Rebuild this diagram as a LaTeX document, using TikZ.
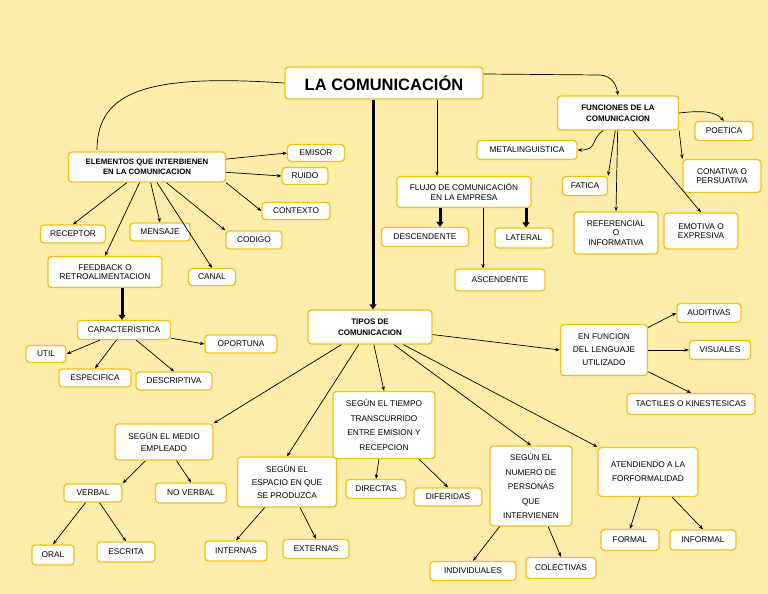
\documentclass[tikz,border=0pt]{standalone}
\usepackage{fontspec}
\setmainfont{Liberation Sans}
\usetikzlibrary{arrows.meta}
\definecolor{bg}{HTML}{FCEEAA}
\definecolor{bd}{HTML}{F2C21A}
\begin{document}
\begin{tikzpicture}[x=1pt,y=-1pt,
 box/.style={draw=bd,line width=1.3pt,fill=white,rounded corners=3.5pt,align=center,font=\fontsize{8.3}{9.5}\selectfont,inner sep=1pt},
 b/.style 2 args={box,minimum width=#1,minimum height=#2},
 a/.style={-{Stealth[length=4.5pt,width=3.5pt]},line width=0.7pt},
 thk/.style={-{Triangle[length=5pt,width=7pt]},line width=3pt}]
\fill[bg] (0,0) rectangle (768,594);
\useasboundingbox (0,0) rectangle (768,594);
\node[b={198pt}{32pt},font=\bfseries\fontsize{16.5}{18}\selectfont] (main) at (384,83) {LA COMUNICACIÓN};
\node[b={157pt}{30pt},font=\bfseries\fontsize{7.8}{9.5}\selectfont] (elem) at (147,167) {ELEMENTOS QUE INTERBIENEN\\EN LA COMUNICACION};
\node[b={57pt}{17pt}] (emisor) at (316,153) {EMISOR};
\node[b={46pt}{17pt}] (ruido) at (305,176) {RUIDO};
\node[b={68pt}{17pt}] (contexto) at (296,211) {CONTEXTO};
\node[b={56pt}{18pt}] (codigo) at (254,240) {CODIGO};
\node[b={47pt}{17pt}] (canal) at (212,277) {CANAL};
\node[b={60pt}{18pt}] (mensaje) at (160,232) {MENSAJE};
\node[b={65pt}{18pt}] (receptor) at (73,234) {RECEPTOR};
\node[b={114pt}{31pt}] (feed) at (105,272) {FEEDBACK O\\RETROALIMENTACION};
\node[b={93pt}{19pt}] (carac) at (124,330) {CARACTERISTICA};
\node[b={72pt}{18pt}] (oport) at (241,344) {OPORTUNA};
\node[b={40pt}{17pt}] (util) at (46,354) {UTIL};
\node[b={72pt}{18pt}] (espec) at (95,378) {ESPECIFICA};
\node[b={76pt}{18pt}] (descr) at (174,381) {DESCRIPTIVA};
\node[b={121pt}{34pt},font=\bfseries\fontsize{8}{11}\selectfont] (func) at (618,113) {FUNCIONES DE LA\\COMUNICACION};
\node[b={58pt}{19pt}] (poet) at (724,131) {POETICA};
\node[b={100pt}{19pt}] (meta) at (527,150) {METALINGUISTICA};
\node[b={45pt}{19pt}] (fat) at (585,186) {FATICA};
\node[b={78pt}{33pt}] (conat) at (722,176) {CONATIVA O\\PERSUATIVA};
\node[b={84pt}{42pt}] (refer) at (616,233) {REFERENCIAL\\O\\INFORMATIVA};
\node[b={74pt}{36pt}] (emot) at (701,231) {EMOTIVA O\\EXPRESIVA};
\node[b={134pt}{31pt}] (flujo) at (464,192) {FLUJO DE COMUNICACIÓN\\EN LA EMPRESA};
\node[b={87pt}{19pt}] (desc) at (425,237) {DESCENDENTE};
\node[b={58pt}{20pt}] (lat) at (524,238) {LATERAL};
\node[b={90pt}{22pt}] (asc) at (500,280) {ASCENDENTE};
\node[b={124pt}{34pt},font=\bfseries\fontsize{8}{11}\selectfont] (tipos) at (370,327) {TIPOS DE\\COMUNICACION};
\node[b={87pt}{51pt},font=\fontsize{8.3}{13}\selectfont] (leng) at (604,350) {EN FUNCION\\DEL LENGUAJE\\UTILIZADO};
\node[b={64pt}{19pt}] (aud) at (709,313) {AUDITIVAS};
\node[b={61pt}{19pt}] (vis) at (720,350) {VISUALES};
\node[b={128pt}{21pt}] (tact) at (691,404) {TACTILES O KINESTESICAS};
\node[b={98pt}{36pt},font=\fontsize{8.3}{12}\selectfont] (medio) at (164,442) {SEGÚN EL MEDIO\\EMPLEADO};
\node[b={58pt}{18pt}] (verbal) at (93,493) {VERBAL};
\node[b={71pt}{20pt}] (nover) at (191,493) {NO VERBAL};
\node[b={42pt}{20pt}] (oral) at (53,555) {ORAL};
\node[b={58pt}{20pt}] (escr) at (126,552) {ESCRITA};
\node[b={99pt}{50pt},font=\fontsize{8.3}{13}\selectfont] (esp) at (287,482) {SEGÚN EL\\ESPACIO EN QUE\\SE PRODUZCA};
\node[b={62pt}{20pt}] (intern) at (236,551) {INTERNAS};
\node[b={66pt}{19pt}] (extern) at (316,549) {EXTERNAS};
\node[b={102pt}{67pt},font=\fontsize{8.3}{14.5}\selectfont] (tiempo) at (384,425) {SEGÚN EL TIEMPO\\TRANSCURRIDO\\ENTRE EMISION Y\\RECEPCION};
\node[b={60pt}{19pt}] (direc) at (376,489) {DIRECTAS};
\node[b={68pt}{18pt}] (difer) at (448,497) {DIFERIDAS};
\node[b={82pt}{80pt},font=\fontsize{8.3}{14.5}\selectfont] (num) at (531,486) {SEGÚN EL\\NUMERO DE\\PERSONAS\\QUE\\INTERVIENEN};
\node[b={86pt}{19pt}] (indiv) at (473,571) {INDIVIDUALES};
\node[b={70pt}{21pt}] (colec) at (561,568) {COLECTIVAS};
\node[b={100pt}{49pt},font=\fontsize{8.3}{14}\selectfont] (aten) at (648,472) {ATENDIENDO A LA\\FORFORMALIDAD};
\node[b={58pt}{21pt}] (formal) at (630,540) {FORMAL};
\node[b={66pt}{20pt}] (inform) at (703,540) {INFORMAL};
% connectors
\draw[line width=0.7pt] (main.west) .. controls (150,74) and (97,90) .. (97,150);
\draw[thk] (main.south -| 373,0) -- (tipos.north -| 373,0);
\draw[thk] (feed.south -| 122,0) -- (carac.north -| 122,0);
\draw[thk] (flujo.south -| 440,0) -- (desc.north -| 440,0);
\draw[thk] (flujo.south -| 526,0) -- (lat.north -| 526,0);
\draw[a] (main.south -| 437,0) -- (flujo.north -| 437,0);
\draw[a] (main.east |- 0,74) -- (600,75) .. controls (612,76) and (616,84) .. (func.north);
\draw[a] (func.east) .. controls (705,110) and (715,112) .. (poet.north);
\draw[a] (func.south -| 603,0) .. controls (590,140) and (598,150) .. (meta.east);
\draw[a] (func) -- (fat.north east);
\draw[a] (func.south east) -- (conat.north west);
\draw[a] (func) -- (refer.north);
\draw[a] (func) -- (emot.north);
\draw[a] (elem) -- (emisor.west);
\draw[a] (elem) -- (ruido.west);
\draw[a] (elem.south east) -- (contexto.west);
\draw[a] (elem) -- (codigo.north west);
\draw[a] (elem) -- (canal.north);
\draw[a] (elem) -- (mensaje.north);
\draw[a] (elem) -- (receptor.north);
\draw[a] (elem) -- (feed.north);
\draw[a] (carac) -- (oport.west);
\draw[a] (carac) -- (util.east);
\draw[a] (carac) -- (espec.north);
\draw[a] (carac) -- (descr.north);
\draw[a] (flujo.south -| 483,0) -- (asc.north -| 483,0);
\draw[a] (tipos) -- (leng.west);
\draw[a] (tipos) -- (medio.north east);
\draw[a] (tipos) -- (esp.north);
\draw[a] (tipos) -- (tiempo.north);
\draw[a] (tipos) -- (num.north);
\draw[a] (tipos) -- (aten.north west);
\draw[a] (leng) -- (aud.west);
\draw[a] (leng) -- (vis.west);
\draw[a] (leng) -- (tact.north);
\draw[a] (medio) -- (verbal.north east);
\draw[a] (medio) -- (nover.north);
\draw[a] (verbal) -- (oral.north);
\draw[a] (verbal) -- (escr.north);
\draw[a] (esp) -- (intern.north);
\draw[a] (esp) -- (extern.north);
\draw[a] (tiempo) -- (direc.north);
\draw[a] (tiempo) -- (difer.north);
\draw[a] (num) -- (indiv.north);
\draw[a] (num) -- (colec.north);
\draw[a] (aten) -- (formal.north);
\draw[a] (aten) -- (inform.north);
\end{tikzpicture}
\end{document}
